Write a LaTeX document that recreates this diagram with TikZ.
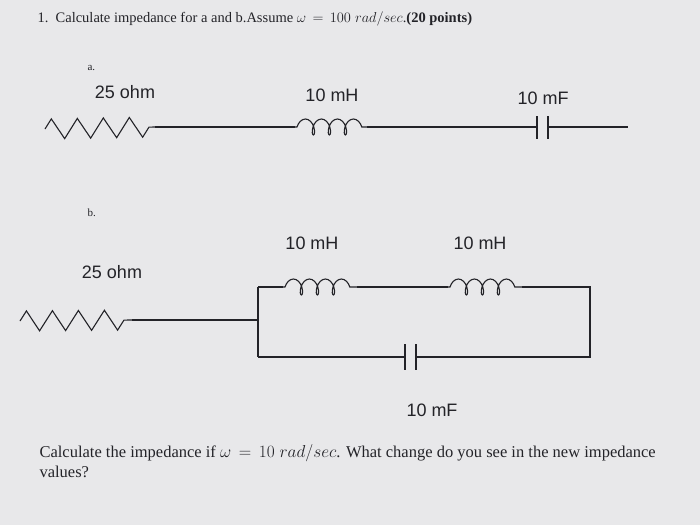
\documentclass[tikz,border=0pt]{standalone}
\usepackage{fontspec}
\setmainfont{Liberation Serif}
\newfontfamily\lab{Liberation Sans}
\usetikzlibrary{decorations.pathmorphing}
\definecolor{paper}{RGB}{232,232,234}
\definecolor{ink}{RGB}{35,35,40}
\tikzset{
 wire/.style={draw=ink,line width=1.1pt},
 res/.style={wire,decorate,decoration={zigzag,segment length=26pt,amplitude=10pt}},
 coilw/.style={wire,decorate,decoration={coil,aspect=0.55,segment length=16pt,amplitude=8pt,pre length=2pt,post length=2pt}},
 lbl/.style={font=\lab\fontsize{18}{20}\selectfont,text=ink},
 txt/.style={font=\fontsize{16.5}{19}\selectfont,text=ink,anchor=west},
}
\begin{document}
\begin{tikzpicture}[x=1pt,y=-1pt]
\fill[paper] (0,0) rectangle (700,525);
\useasboundingbox (0,0) rectangle (700,525);
\node[txt,font=\fontsize{14.5}{16}\selectfont] (title) at (34,19) {1.\ \ Calculate impedance for a and b.Assume $\omega\,=\,100\;rad/sec$.\textbf{(20 points)}};
\node[txt,font=\fontsize{11}{12}\selectfont] (la) at (84,68) {a.};
\node[txt,font=\fontsize{11}{12}\selectfont] (lb) at (84,213) {b.};
% circuit a
\coordinate (a0) at (45,129); \coordinate (a1) at (155,127);
\coordinate (a2) at (295,127); \coordinate (a3) at (367,127);
\coordinate (a4) at (537,127); \coordinate (a5) at (548,127); \coordinate (a6) at (628,127);
\draw[res] (a0) -- (a1);
\draw[wire] (a1) -- (a2);
\draw[coilw] (a2) -- (a3);
\draw[wire] (a3) -- (a4) (a5) -- (a6);
\draw[wire] (537,116) -- (537,139) (548,116) -- (548,139);
\node[lbl] (ra) at (125,92) {25 ohm};
\node[lbl] (la1) at (332,95) {10 mH};
\node[lbl] (ca) at (543,98) {10 mF};
% circuit b
\coordinate (b0) at (20,321); \coordinate (b1) at (132,320); \coordinate (b2) at (258,320);
\coordinate (tl) at (258,287); \coordinate (bl) at (258,357);
\coordinate (tr) at (590,287); \coordinate (br) at (590,357);
\draw[res] (b0) -- (b1);
\draw[wire] (b1) -- (b2);
\draw[wire] (tl) -- (bl);
\draw[wire] (tl) -- (283,287);
\draw[coilw] (283,287) -- (357,287);
\draw[wire] (357,287) -- (448,287);
\draw[coilw] (448,287) -- (522,287);
\draw[wire] (522,287) -- (tr) -- (br) -- (416,357);
\draw[wire] (405,357) -- (bl);
\draw[wire] (405,344) -- (405,370) (416,344) -- (416,370);
\node[lbl] (l1) at (312,243) {10 mH};
\node[lbl] (l2) at (480,243) {10 mH};
\node[lbl] (rb) at (112,272) {25 ohm};
\node[lbl] (cb) at (432,410) {10 mF};
\node[txt] (q1) at (36,453) {Calculate the impedance if $\omega\,=\,10\;rad/sec$. What change do you see in the new impedance};
\node[txt] (q2) at (36,472) {values?};
\end{tikzpicture}
\end{document}
